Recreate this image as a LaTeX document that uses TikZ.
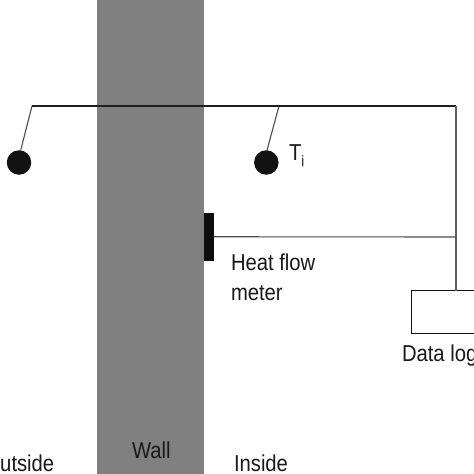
\documentclass[tikz,border=0pt]{standalone}
\usepackage{fontspec}
\setmainfont{Liberation Sans}[FakeStretch=0.88]
\definecolor{wallgray}{gray}{0.5}
\definecolor{wire}{gray}{0.12}
\definecolor{wiremid}{gray}{0.3}
\tikzset{
  lbl/.style={inner sep=0pt,outer sep=0pt,font=\fontsize{23}{26}\selectfont,text=black!90,anchor=base west},
  sensor/.style={circle,fill=black!93,draw=none,minimum size=24.5pt,inner sep=0pt,outer sep=0pt},
  wirethick/.style={draw=wire,line width=1.4pt},
  wirethin/.style={draw=wiremid,line width=1.1pt},
}
\begin{document}
\begin{tikzpicture}[x=1pt,y=-1pt]
\useasboundingbox (0,0) rectangle (474,474);
\clip (0,0) rectangle (474,474);
\fill[white] (0,0) rectangle (474,474);
% wall
\node[fill=wallgray,draw=none,minimum width=106.5pt,minimum height=474pt,inner sep=0pt,outer sep=0pt,anchor=north west] (wall) at (97,0) {};
% heat flow meter
\node[fill=black!95,draw=none,minimum width=10.5pt,minimum height=47.5pt,inner sep=0pt,outer sep=0pt,anchor=north west] (meter) at (203.5,213) {};
% sensors
\node[sensor] (so) at (19,162.5) {};
\node[sensor] (si) at (266.3,162.5) {};
% wiring coordinates
\coordinate (busl) at (32,106);
\coordinate (busr) at (456,106);
\coordinate (tapi) at (279,106);
\coordinate (jct) at (456,237);
% logger
\node[draw=black!92,line width=1.5pt,fill=white,minimum width=90pt,minimum height=43pt,inner sep=0pt,outer sep=0pt,anchor=north west] (logger) at (411.5,290.5) {};
\coordinate (logtop) at (456,290.5);
% connectors
\draw[wirethin] (20.5,151) -- (busl);
\draw[wirethin] (266.8,151) -- (tapi);
\draw[wirethick] (busl) -- (busr);
\draw[draw=black!62,line width=1.4pt] (busr) -- (logtop);
\draw[wirethin] (meter.east) -- (jct);
% labels
\node[lbl] (ti) at (289,160.7) {T\raisebox{-6pt}{\fontsize{15}{16}\selectfont i}};
\node[lbl] (hf1) at (231,270) {Heat flow};
\node[lbl] (hf2) at (231,300.7) {meter};
\node[lbl] (dl) at (402,361.7) {Data logger};
\node[lbl] (wl) at (132,458.7) {Wall};
\node[lbl] (ins) at (234,471.7) {Inside};
\node[lbl] (outs) at (-15.5,471.7) {Outside};
\end{tikzpicture}
\end{document}
